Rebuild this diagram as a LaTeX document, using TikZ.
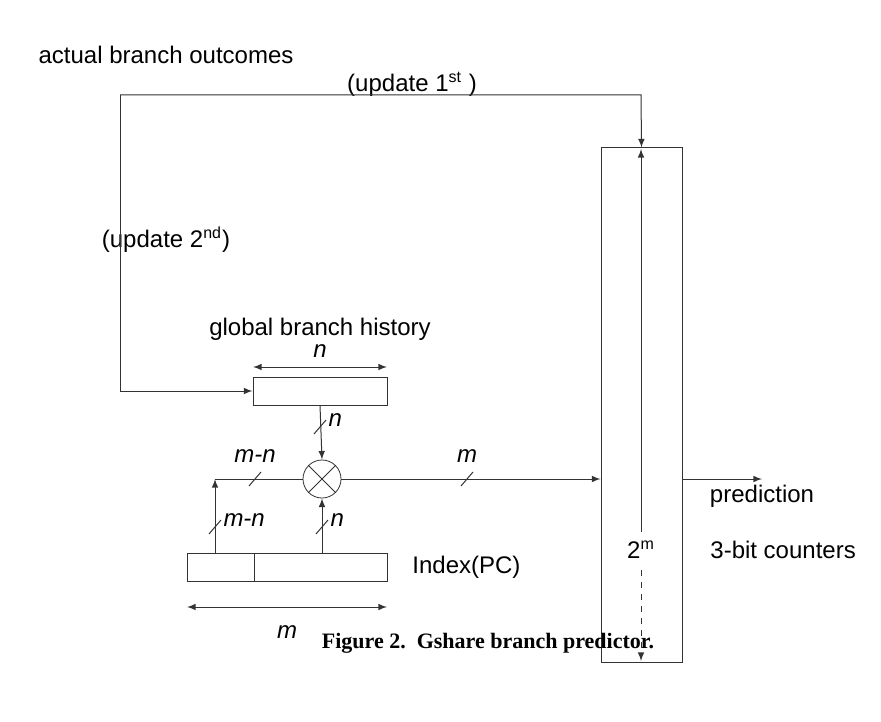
\documentclass[tikz,border=0pt]{standalone}
\usepackage{fontspec}
\setmainfont{Liberation Sans}
\newfontfamily\capfont{Liberation Serif}
\usetikzlibrary{arrows,positioning,shapes}

\begin{document}
\begin{tikzpicture}[x=0.5pt,y=-0.5pt,
  wire/.style={draw=black!80,line width=0.5pt},
  arr/.style={wire,-latex},
  box/.style={draw=black!80,line width=0.5pt,inner sep=0pt},
  lbl/.style={font=\fontsize{12}{14}\selectfont,inner sep=1pt},
  bus/.style={font=\fontsize{12}{14}\selectfont\itshape,inner sep=1pt}]
\useasboundingbox (0,0) rectangle (881,721);

% Boxes
\node[box,minimum width=67pt,minimum height=14pt] (hist) at (320,391) {};
\node[box,minimum width=100pt,minimum height=14pt] (pc) at (287,567) {};
\draw[wire] (254,553) -- (254,581);
\node[box,minimum width=40.5pt,minimum height=257pt] (table) at (641.5,405) {};
\node[draw=black!80,circle,minimum size=19pt,inner sep=0pt] (xor) at (322,479) {};
\draw[wire] (xor.north west) -- (xor.south east);
\draw[wire] (xor.north east) -- (xor.south west);

% Coordinates
\coordinate (top) at (120,95);
\coordinate (tl) at (641,95);
\coordinate (hl) at (120,391);
\coordinate (jl) at (215,479);
\coordinate (pl) at (215,553);
\coordinate (pr) at (322,553);
\coordinate (pred) at (762,479);

% Texts
\node[lbl] (outc) at (166,55) {actual branch outcomes};
\node[lbl] (up1) at (412,84) {(update 1\textsuperscript{st} )};
\node[lbl] (up2) at (166,240) {(update 2\textsuperscript{nd})};
\node[lbl] (ghist) at (320,329) {global branch history};
\node[bus] (nh) at (320,351) {n};
\node[lbl,anchor=west] (idx) at (410,567) {Index(PC)};
\node[bus] (mpc) at (287,632) {m};
\node[lbl] (prd) at (762,496) {prediction};
\node[lbl,anchor=west] (cnt) at (708,550) {3-bit counters};
\node[lbl] (twom) at (641,550) {2\textsuperscript{m}};
\node[font=\capfont\fontsize{11}{13}\selectfont\bfseries] (cap) at (488,643) {Figure 2.\ \ Gshare branch predictor.};

% Update paths
\draw[arr] (top) -- (tl) -- (table.north);
\draw[arr] (top) -- (hl) -- (hist.west);

% Widths
\draw[wire,latex-latex] (253,367) -- (387,367);
\draw[wire,latex-latex] (187,607) -- (387,607);
\draw[arr] (641,532) -- (641,149);
\draw[arr,dashed] (641,570) -- (641,661);

% Buses
\draw[arr] (hist.south) -- (xor.north);
\draw[arr] (pr) -- (xor.south);
\draw[arr] (pl) -- (jl);
\draw[wire] (jl) -- (xor.west);
\draw[arr] (xor.east) -- (table.west |- xor);
\draw[arr] (table.east |- xor) -- (pred);

% Bus widths
\foreach \x/\y/\t in {320/427/n, 322/527/n, 215/527/m-n}
  \draw[wire] (\x-6,\y+7) -- (\x+6,\y-7) node[bus,right] {\t};
\foreach \x/\t in {255/m-n, 467/m}
  \draw[wire] (\x-6,486) -- (\x+6,472) node[bus,above=7pt,midway] {\t};
\end{tikzpicture}
\end{document}
